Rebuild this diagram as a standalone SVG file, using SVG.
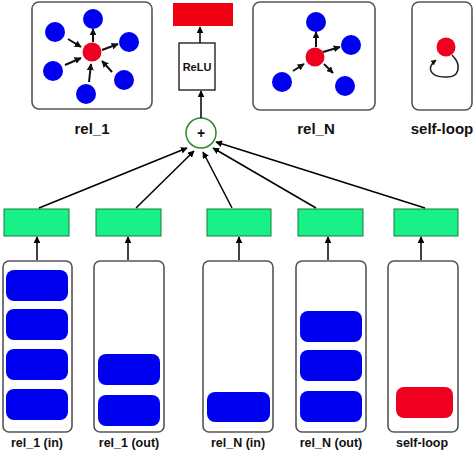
<svg xmlns="http://www.w3.org/2000/svg" width="474" height="452" viewBox="0 0 474 452">
<defs>
<marker id="ah" viewBox="0 0 10 10" refX="9" refY="5" markerWidth="4.5" markerHeight="4.5" orient="auto-start-reverse" markerUnits="strokeWidth">
<path d="M0,0 L10,5 L0,10 z" fill="#000"/>
</marker>
<marker id="ahs" viewBox="0 0 10 10" refX="9" refY="5" markerWidth="3.5" markerHeight="3.5" orient="auto" markerUnits="strokeWidth">
<path d="M0,0 L10,5 L0,10 z" fill="#111"/>
</marker>
</defs>
<style>
.box{fill:#fff;stroke:#555;stroke-width:1.6}
.blue{fill:#0000f0}
.red{fill:#f00020}
.green{fill:#18f088;stroke:#1a7a3a;stroke-width:1}
.conn{stroke:#000;stroke-width:1.5;fill:none;marker-end:url(#ah)}
.inner{stroke:#111;stroke-width:2;fill:none;marker-end:url(#ahs)}
.t{font-family:"Liberation Sans",Arial,sans-serif;font-weight:bold;fill:#111;text-anchor:middle}
.big{font-size:15px}
.small{font-size:12.5px}
</style>
<rect width="474" height="452" fill="#fff"/>

<g id="rel1-graph">
<rect class="box" x="32" y="2" width="120" height="107" rx="7"/>
<line class="inner" x1="93" y1="42" x2="93" y2="29"/>
<line class="inner" x1="102" y1="50" x2="118" y2="44"/>
<line class="inner" x1="68" y1="39" x2="81" y2="47"/>
<line class="inner" x1="65" y1="65" x2="81" y2="58"/>
<line class="inner" x1="89" y1="82" x2="91" y2="64"/>
<line class="inner" x1="112" y1="72" x2="102" y2="61"/>
<circle class="red" cx="92" cy="52" r="9.5"/>
<circle class="blue" cx="93" cy="19" r="10"/>
<circle class="blue" cx="55" cy="32" r="10"/>
<circle class="blue" cx="129" cy="42" r="10"/>
<circle class="blue" cx="53" cy="71" r="10"/>
<circle class="blue" cx="124" cy="80" r="10"/>
<circle class="blue" cx="86" cy="94" r="10"/>
<text class="t big" x="92" y="134">rel_1</text>
</g>

<g id="output">
<rect x="173" y="3" width="60" height="23" fill="#f00010"/>
</g>

<g id="relu">
<rect x="179" y="43" width="36" height="47" fill="#fff" stroke="#111" stroke-width="1.3"/>
<text class="t" x="197" y="71" font-size="11">ReLU</text>
</g>

<g id="relN-graph">
<rect class="box" x="253" y="2" width="122" height="108" rx="7"/>
<line class="inner" x1="316" y1="47" x2="316" y2="32"/>
<line class="inner" x1="323" y1="52" x2="340" y2="47"/>
<line class="inner" x1="293" y1="71" x2="304" y2="64"/>
<line class="inner" x1="324" y1="64" x2="333" y2="73"/>
<circle class="red" cx="315" cy="57" r="9.5"/>
<circle class="blue" cx="316" cy="22" r="10"/>
<circle class="blue" cx="351" cy="45" r="10"/>
<circle class="blue" cx="282" cy="82" r="10"/>
<circle class="blue" cx="345" cy="86" r="10"/>
<text class="t big" x="316" y="134">rel_N</text>
</g>

<g id="selfloop-graph">
<rect class="box" x="412" y="2" width="60" height="108" rx="7"/>
<path d="M452 55 C462 65 460 78 445 77 C430 77 426 68 436 60" stroke="#222" stroke-width="1.6" fill="none" marker-end="url(#ahs)"/>
<circle class="red" cx="446" cy="47" r="9.5"/>
<text class="t big" x="442" y="134">self-loop</text>
</g>

<g id="sum">
<circle cx="201" cy="133" r="15" fill="#fff" stroke="#2a8a2a" stroke-width="1.5"/>
<text class="t" x="201" y="138" font-size="14">+</text>
</g>

<g id="proj1"><rect class="green" x="4" y="209" width="65" height="27"/></g>
<g id="proj2"><rect class="green" x="96" y="209" width="65" height="27"/></g>
<g id="proj3"><rect class="green" x="207" y="209" width="64" height="27"/></g>
<g id="proj4"><rect class="green" x="298" y="209" width="65" height="27"/></g>
<g id="proj5"><rect class="green" x="394" y="209" width="64" height="27"/></g>

<g id="col1">
<rect class="box" x="3" y="261" width="69" height="171" rx="6"/>
<rect class="blue" x="6" y="270" width="62" height="31" rx="8"/>
<rect class="blue" x="6" y="309" width="62" height="31" rx="8"/>
<rect class="blue" x="6" y="349" width="62" height="31" rx="8"/>
<rect class="blue" x="6" y="389" width="62" height="31" rx="8"/>
<text class="t small" x="37" y="447">rel_1 (in)</text>
</g>
<g id="col2">
<rect class="box" x="94" y="261" width="70" height="171" rx="6"/>
<rect class="blue" x="98" y="354" width="62" height="31" rx="8"/>
<rect class="blue" x="98" y="395" width="62" height="31" rx="8"/>
<text class="t small" x="129" y="447">rel_1 (out)</text>
</g>
<g id="col3">
<rect class="box" x="203" y="261" width="70" height="171" rx="6"/>
<rect class="blue" x="207" y="392" width="63" height="30" rx="8"/>
<text class="t small" x="238" y="447">rel_N (in)</text>
</g>
<g id="col4">
<rect class="box" x="296" y="261" width="70" height="171" rx="6"/>
<rect class="blue" x="300" y="311" width="62" height="31" rx="8"/>
<rect class="blue" x="300" y="350" width="62" height="31" rx="8"/>
<rect class="blue" x="300" y="391" width="62" height="31" rx="8"/>
<text class="t small" x="331" y="447">rel_N (out)</text>
</g>
<g id="col5">
<rect class="box" x="388" y="261" width="70" height="171" rx="6"/>
<rect class="red" x="396" y="387" width="57" height="31" rx="8"/>
<text class="t small" x="422" y="447">self-loop</text>
</g>

<g id="connectors">
<line class="conn" x1="200" y1="43" x2="200" y2="27"/>
<line class="conn" x1="201" y1="118" x2="201" y2="91"/>
<line class="conn" x1="39" y1="208" x2="187" y2="148"/>
<line class="conn" x1="136" y1="208" x2="194" y2="151"/>
<line class="conn" x1="232" y1="208" x2="203" y2="152"/>
<line class="conn" x1="316" y1="208" x2="213" y2="148"/>
<line class="conn" x1="425" y1="208" x2="216" y2="142"/>
<line class="conn" x1="37" y1="260" x2="37" y2="237"/>
<line class="conn" x1="128" y1="260" x2="128" y2="237"/>
<line class="conn" x1="239" y1="260" x2="239" y2="237"/>
<line class="conn" x1="328" y1="260" x2="328" y2="237"/>
<line class="conn" x1="421" y1="260" x2="421" y2="237"/>
</g>
</svg>
